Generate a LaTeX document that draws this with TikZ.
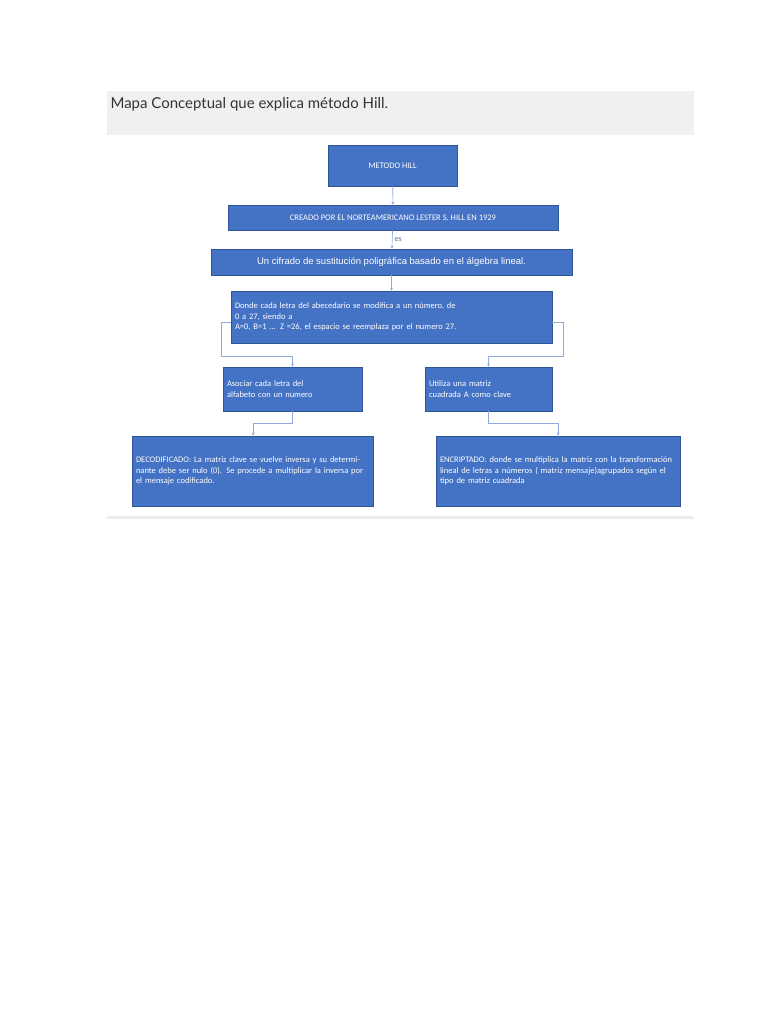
\documentclass[tikz,border=0pt]{standalone}
\usepackage{fontspec}
\setmainfont{Carlito}
\newfontfamily\titlefont{Lato}
\usetikzlibrary{arrows.meta}
\definecolor{boxfill}{HTML}{4472C4}
\definecolor{boxline}{HTML}{2F5597}
\definecolor{conn}{HTML}{8FAADC}
\begin{document}
\begin{tikzpicture}[x=1pt,y=-1pt,
  bx/.style={draw=boxline,fill=boxfill,text=white,font=\fontsize{8.5}{10.5}\selectfont,inner sep=3pt,line width=0.6pt},
  cn/.style={draw=conn,line width=0.6pt,-{Stealth[length=3pt,width=3pt]}}]
\useasboundingbox (0,0) rectangle (768,1024);
\fill[white] (0,0) rectangle (768,1024);
\fill[gray!12] (107,91) rectangle (694,135);
\node[anchor=west,font=\titlefont\fontsize{15}{18}\selectfont,text=black!80] (title) at (107,104) {Mapa Conceptual que explica método Hill.};
\fill[gray!15] (107,516) rectangle (694,519);
\node[bx,minimum width=129,minimum height=41] (m) at (392.5,165.5) {METODO HILL};
\node[bx,minimum width=330,minimum height=25] (c) at (393,217.5) {CREADO POR EL NORTEAMERICANO LESTER S. HILL EN 1929};
\node[bx,minimum width=361,minimum height=26,font=\fontfamily{lmss}\fontsize{9.5}{11}\selectfont\setmainfont{Liberation Sans}] (u) at (391.5,262) {Un cifrado de sustitución poligráfica basado en el álgebra lineal.};
\node[bx,minimum width=321,minimum height=52,text width=313,align=left] (d) at (391.5,317) {Donde cada letra del abecedario se modifica a un número, de\\0 a 27, siendo a\\A=0, B=1 ... Z =26, el espacio se reemplaza por el numero 27.};
\node[bx,minimum width=139,minimum height=44,text width=131,align=left] (a) at (292.5,389) {Asociar cada letra del\\alfabeto con un numero};
\node[bx,minimum width=127,minimum height=44,text width=119,align=left] (t) at (488.5,389) {Utiliza una matriz\\cuadrada A como clave};
\node[bx,minimum width=241,minimum height=70,text width=233,align=left] (dec) at (252.5,471) {DECODIFICADO: La matriz clave se vuelve inversa y su determinante debe ser nulo (0). Se procede a multiplicar la inversa por el mensaje codificado.};
\node[bx,minimum width=244,minimum height=70,text width=236,align=left] (enc) at (558,471) {ENCRIPTADO: donde se multiplica la matriz con la transformación lineal de letras a números ( matriz mensaje)agrupados según el tipo de matriz cuadrada};
\draw[cn] (m) -- (c);
\draw[cn] (c) -- node[right,text=boxfill,font=\fontsize{8}{9}\selectfont,inner sep=2pt] {es} (u);
\draw[cn] (u) -- (d);
\draw[cn] (d.west |- 0,322) -| (221,356) -| (a.north);
\draw[cn] (d.east |- 0,322) -| (563,356) -| (t.north);
\draw[cn] (a.south) |- (253,423) -- (dec.north -| 253,0);
\draw[cn] (t.south) |- (558,423) -- (enc.north);
\end{tikzpicture}
\end{document}
